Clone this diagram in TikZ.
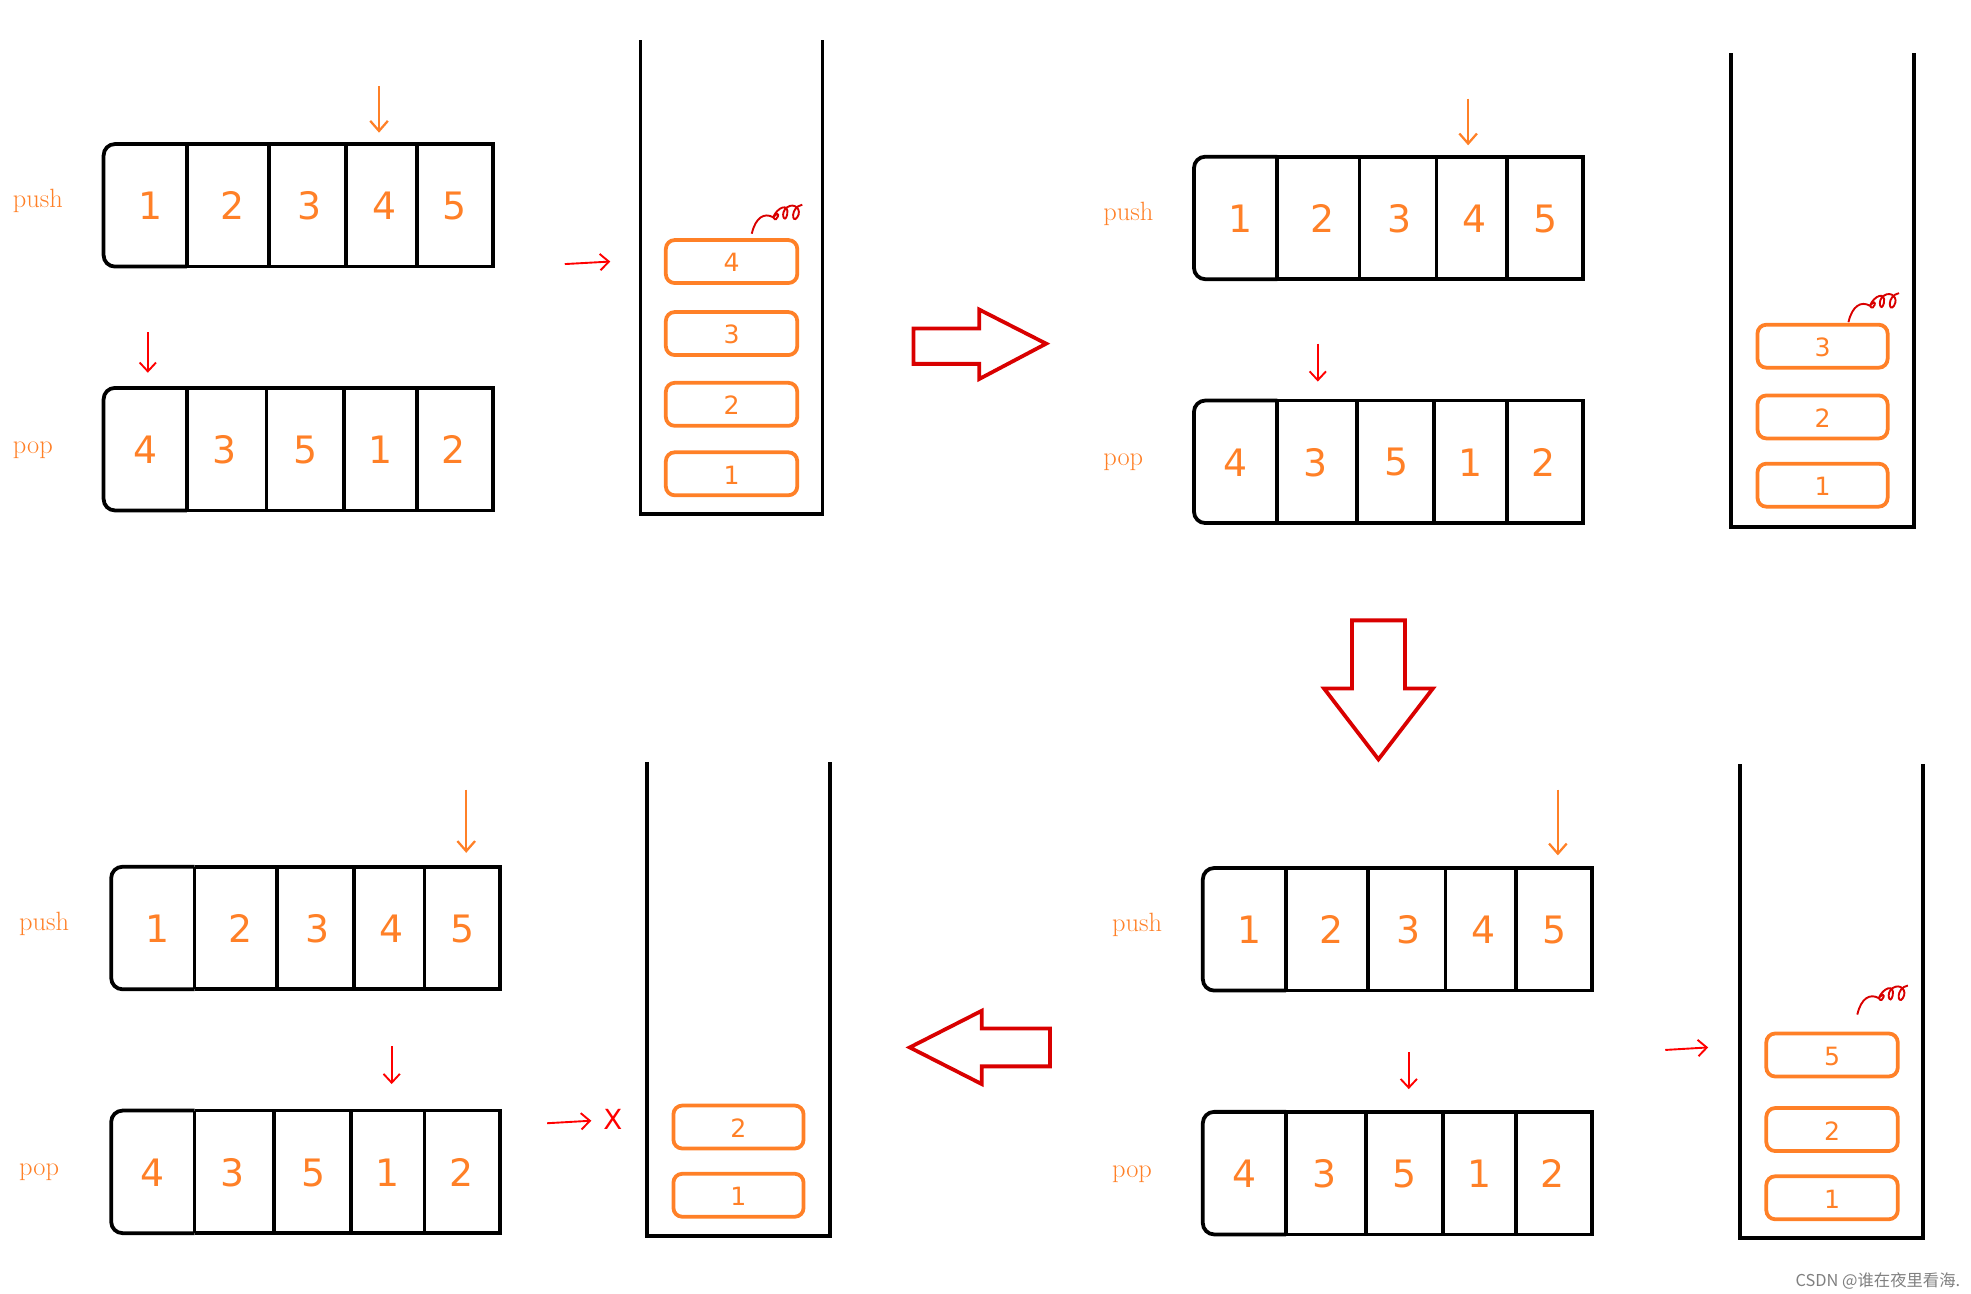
\documentclass[tikz,border=0pt]{standalone}
\usepackage{fontspec}
\usetikzlibrary{arrows.meta}
\newfontfamily\cjk{Noto Sans CJK SC}
\newfontfamily\hand{DejaVu Sans}
\begin{document}
\begin{tikzpicture}[x=1bp,y=-1bp,
  box/.style={draw=black,line width=3pt},
  num/.style={text=orng,font=\hand\fontsize{30}{30}\selectfont},
  lbl/.style={text=orng,font=\fontsize{21}{21}\selectfont},
  item/.style={draw=orng,line width=3pt,rounded corners=7pt},
  oarr/.style={draw=orng,line width=1.8pt,-{Straight Barb[length=8pt,width=14pt]}},
  rarr/.style={draw=red,line width=1.5pt,-{Straight Barb[length=7pt,width=13pt]}},
  bigarr/.style={draw=red!85!black,line width=3pt,line join=miter}]
\definecolor{orng}{RGB}{255,128,39}
\useasboundingbox (0,0) rectangle (1560,1024);
\newcommand\twoarr[3]{%
  \draw[box,rounded corners=9pt] (148+#1,#2) -- (82+#1,#2) -- (82+#1,#2+97) -- (148+#1,#2+97);
  \draw[box] (148+#1,#2) -- (390+#1,#2) -- (390+#1,#2+97) -- (148+#1,#2+97);
  \foreach \d in {148,213,274,330} \draw[box] (\d+#1,#2) -- (\d+#1,#2+97);
  \foreach \n/\cx in {1/119,2/184,3/245,4/304,5/360} \node[num] at (\cx+#1,#2+49) {\n};
  \draw[box,rounded corners=9pt] (148+#1,#3) -- (82+#1,#3) -- (82+#1,#3+97) -- (148+#1,#3+97);
  \draw[box] (148+#1,#3) -- (390+#1,#3) -- (390+#1,#3+97) -- (148+#1,#3+97);
  \foreach \d in {148,211,272,330} \draw[box] (\d+#1,#3) -- (\d+#1,#3+97);
  \foreach \n/\cx in {4/115,3/178,5/242,1/301,2/359} \node[num] at (\cx+#1,#3+49) {\n};
}
\twoarr{0}{114}{307}
\twoarr{863}{124}{317}
\twoarr{6}{686}{879}
\twoarr{870}{687}{880}
\node[lbl] (pu1) at (30,159) {push}; \node[lbl] (po1) at (26,356) {pop};
\node[lbl] (pu2) at (893,169) {push}; \node[lbl] (po2) at (889,366) {pop};
\node[lbl] (pu3) at (35,731) {push}; \node[lbl] (po3) at (31,928) {pop};
\node[lbl] (pu4) at (900,732) {push}; \node[lbl] (po4) at (896,929) {pop};
\draw[box] (507,32) -- (507,407) -- (651,407) -- (651,32);
\draw[box] (1370,42) -- (1370,417) -- (1515,417) -- (1515,42);
\draw[box] (512,603) -- (512,978) -- (657,978) -- (657,603);
\draw[box] (1377,605) -- (1377,980) -- (1522,980) -- (1522,605);
\newcommand\itm[4]{\draw[item] (#1,#3) rectangle (#2,#3+34); \node[num,font=\hand\fontsize{20}{20}\selectfont] at ({(#1+#2)/2},#3+18) {#4};}
\itm{527}{631}{190}{4}\itm{527}{631}{247}{3}\itm{527}{631}{303}{2}\itm{527}{631}{358}{1}
\itm{1391}{1494}{257}{3}\itm{1391}{1494}{313}{2}\itm{1391}{1494}{367}{1}
\itm{533}{636}{875}{2}\itm{533}{636}{929}{1}
\itm{1398}{1502}{818}{5}\itm{1398}{1502}{877}{2}\itm{1398}{1502}{931}{1}
\newcommand\curl[2]{\draw[red!85!black,line width=1.5pt] (#1,#2+25) .. controls (#1+3,#2+12) and (#1+10,#2+8) .. (#1+17,#2+12)
  .. controls (#1+24,#2+4) and (#1+20,#2+18) .. (#1+17,#2+12)
  .. controls (#1+20,#2+4) and (#1+30,#2) .. (#1+28,#2+10) .. controls (#1+26,#2+18) and (#1+22,#2+8) .. (#1+28,#2+4)
  .. controls (#1+34,#2) and (#1+40,#2+6) .. (#1+36,#2+12) .. controls (#1+32,#2+18) and (#1+30,#2+4) .. (#1+40,#2+2);}
\curl{595}{160}\curl{1463}{230}\curl{1470}{778}
\coordinate (a1) at (300,68); \coordinate (b1) at (300,105); \draw[oarr] (a1) -- (b1);
\coordinate (a2) at (1162,78); \coordinate (b2) at (1162,115); \draw[oarr] (a2) -- (b2);
\coordinate (a3) at (369,625); \coordinate (b3) at (369,675); \draw[oarr] (a3) -- (b3);
\coordinate (a4) at (1233,625); \coordinate (b4) at (1233,677); \draw[oarr] (a4) -- (b4);
\coordinate (c1) at (117,263); \coordinate (d1) at (117,295); \draw[rarr] (c1) -- (d1);
\coordinate (c2) at (1043,272); \coordinate (d2) at (1043,302); \draw[rarr] (c2) -- (d2);
\coordinate (c3) at (310,828); \coordinate (d3) at (310,858); \draw[rarr] (c3) -- (d3);
\coordinate (c4) at (1115,833); \coordinate (d4) at (1115,862); \draw[rarr] (c4) -- (d4);
\coordinate (e1) at (447,209); \coordinate (f1) at (483,207); \draw[rarr] (e1) -- (f1);
\coordinate (e2) at (433,889); \coordinate (f2) at (468,887); \draw[rarr] (e2) -- (f2);
\coordinate (e3) at (1318,831); \coordinate (f3) at (1352,829); \draw[rarr] (e3) -- (f3);
\node[text=red,font=\hand\fontsize{22}{22}\selectfont] (x) at (485,886) {X};
\draw[bigarr] (723,260) -- (775,260) -- (775,245) -- (828,272) -- (775,300) -- (775,288) -- (723,288) -- cycle;
\draw[bigarr] (1070,491) -- (1112,491) -- (1112,545) -- (1134,545) -- (1091,601) -- (1048,545) -- (1070,545) -- cycle;
\draw[bigarr] (831,814) -- (777,814) -- (777,800) -- (720,829) -- (777,858) -- (777,844) -- (831,844) -- cycle;
\node[text=gray,font=\cjk\fontsize{13}{13}\selectfont,anchor=east] (wm) at (1555,1014) {CSDN @谁在夜里看海.};
\end{tikzpicture}
\end{document}
